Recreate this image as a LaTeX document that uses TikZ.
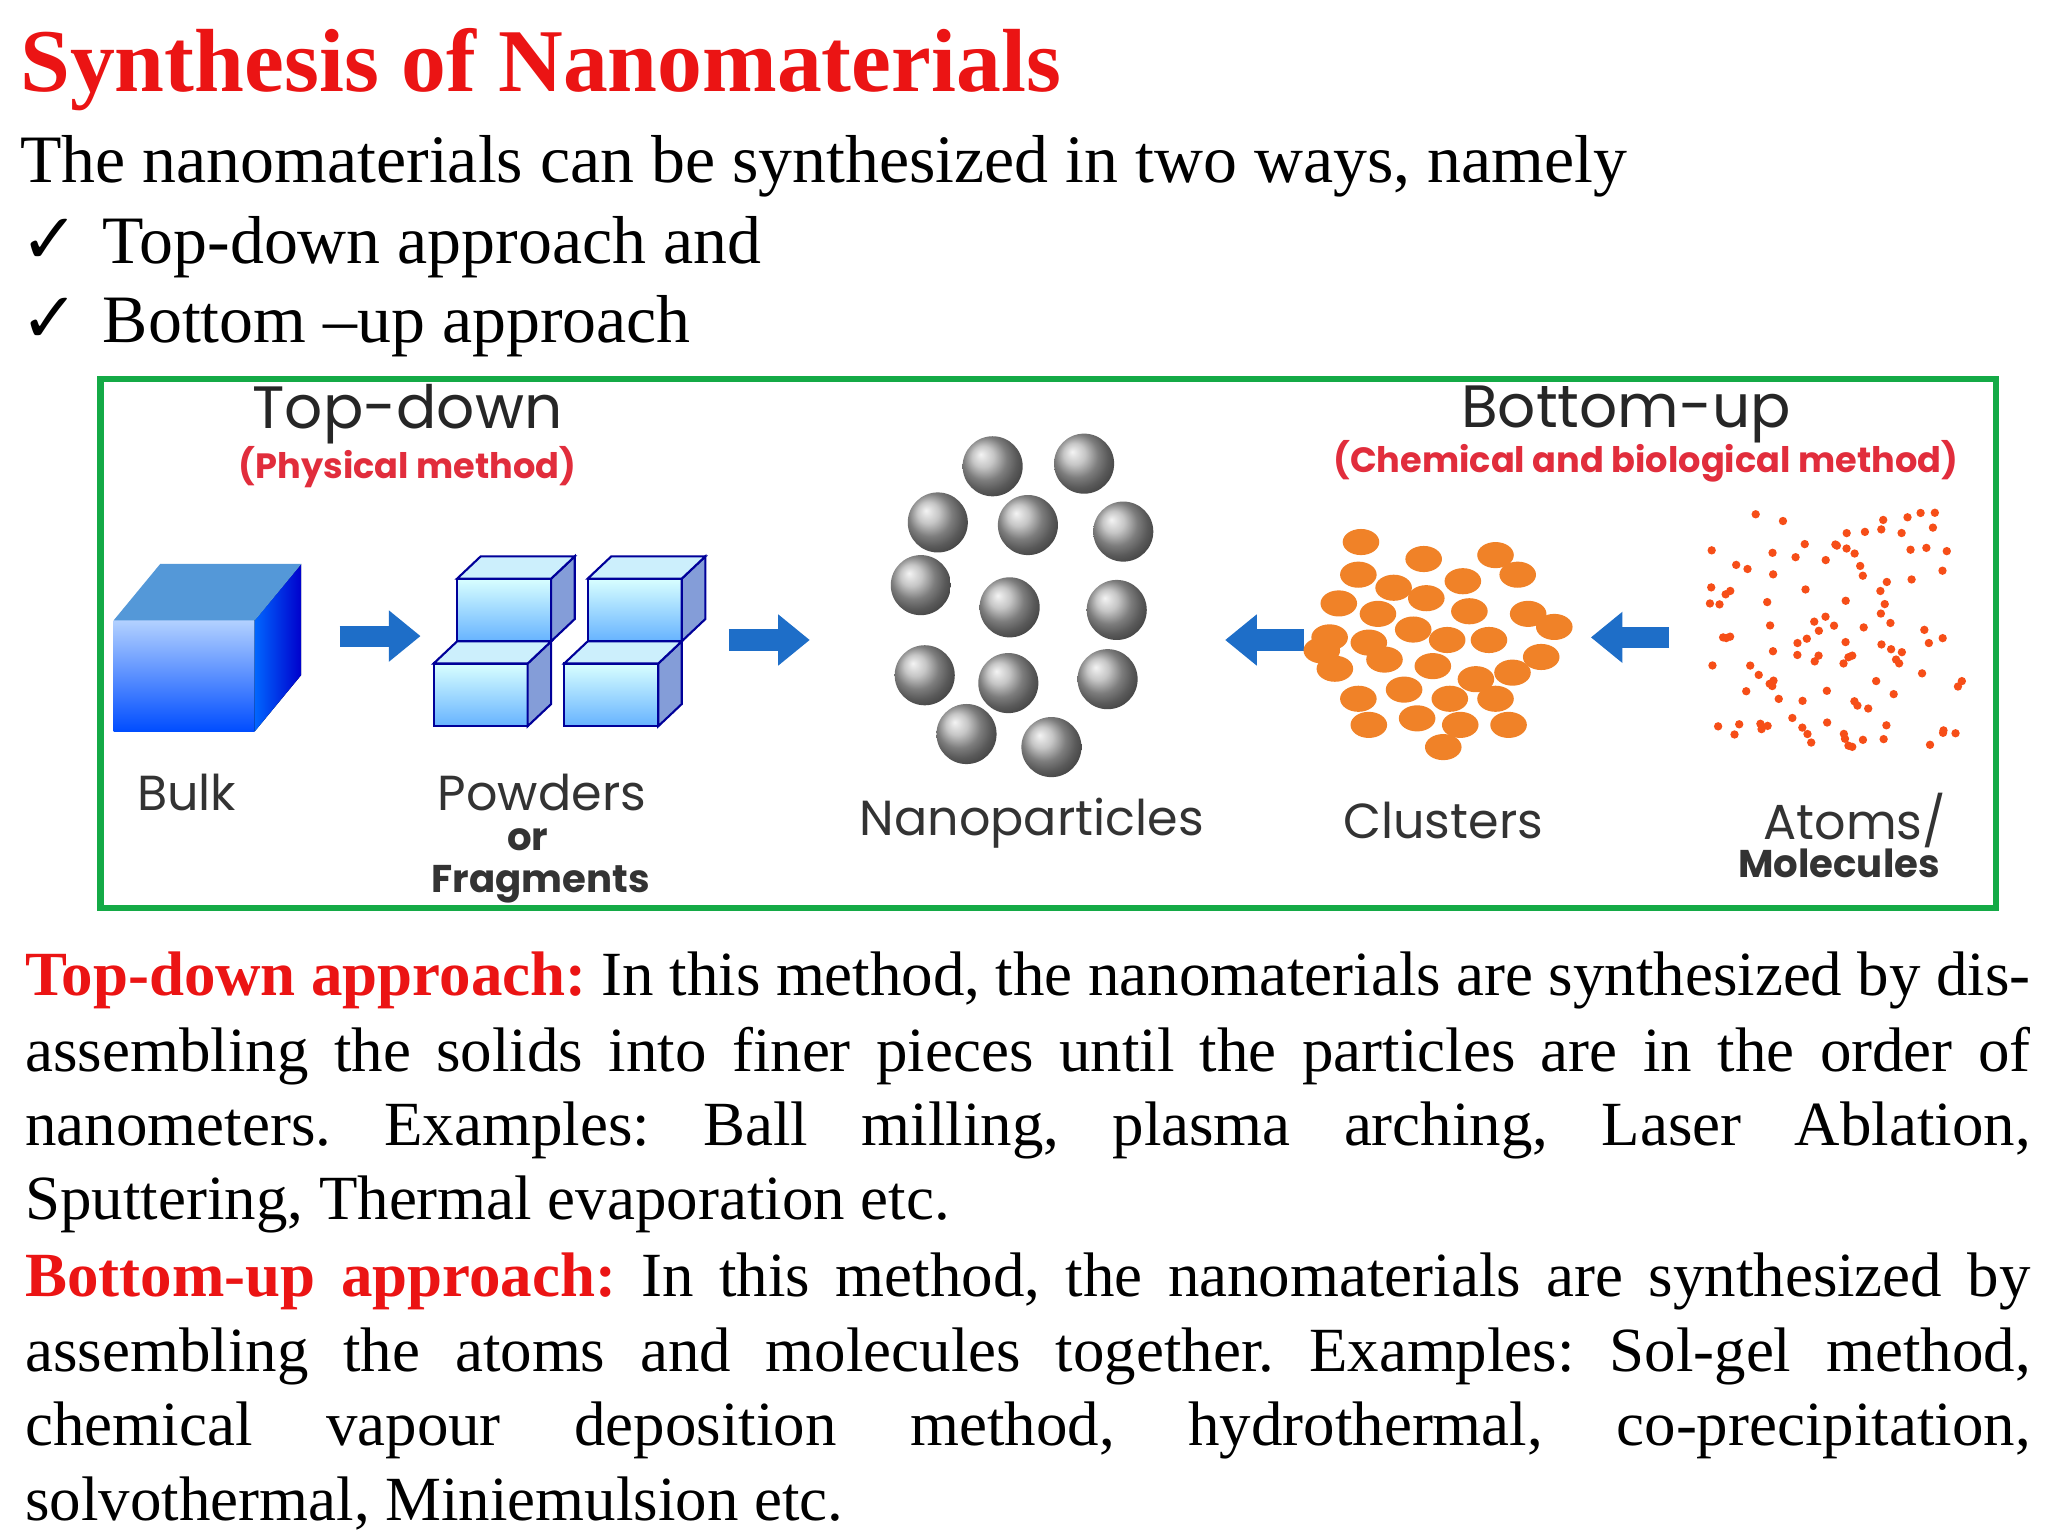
\documentclass[tikz,border=0pt]{standalone}
\usepackage{fontspec}
\setmainfont{Liberation Serif}
\newfontfamily\djfont{DejaVu Sans}
\newfontfamily\popfont{Poppins}
\usetikzlibrary{arrows.meta,shadings}
\definecolor{tred}{RGB}{235,20,20}
\definecolor{gbox}{RGB}{20,170,70}
\definecolor{barrow}{RGB}{30,110,200}
\definecolor{lred}{RGB}{225,45,60}
\definecolor{org}{RGB}{240,130,40}
\frenchspacing
\newcommand\fillline[1]{\hbox to 20.05cm{\spaceskip=0.2em plus 3em\relax #1}}
\tikzset{
 bline/.style={anchor=base west,inner sep=0,font=\fontsize{17.9}{21.4}\selectfont},
 lab/.style={font=\popfont\fontsize{14}{16}\selectfont,text=black!80},
 labb/.style={font=\popfont\bfseries\fontsize{11}{13}\selectfont,text=black!80},
 barr/.style={-{Triangle[length=9pt,width=14pt]},line width=6pt,barrow},
 ball/.style={ball color=gray!60,draw=none},
 clus/.style={fill=org,draw=none},
 dot/.style={fill=org!60!red,draw=none}
}
\begin{document}
\begin{tikzpicture}[x=0.01306cm,y=-0.01306cm]
\useasboundingbox[fill=white] (0,0) rectangle (1568,1176);
\node[anchor=west,inner sep=0,text=tred,font=\bfseries\fontsize{25.5}{28}\selectfont] (title) at (15,53) {Synthesis of Nanomaterials};
\node[anchor=west,inner sep=0,font=\fontsize{19.3}{21}\selectfont] (intro) at (15,127) {The nanomaterials can be synthesized in two ways, namely};
\node[anchor=west,inner sep=0,font=\fontsize{19.3}{21}\selectfont] (i1) at (15,189) {{\djfont\fontsize{20}{22}\selectfont ✓}\hspace{0.35em}Top-down approach and};
\node[anchor=west,inner sep=0,font=\fontsize{19.3}{21}\selectfont] (i2) at (15,250) {{\djfont\fontsize{20}{22}\selectfont ✓}\hspace{0.35em}Bottom –up approach};
\draw[gbox,line width=1.8pt] (77,290) rectangle (1528,695);
\node[font=\popfont\fontsize{17}{19}\selectfont,text=black!85] (td) at (312,317) {Top-down};
\node[font=\popfont\bfseries\fontsize{10}{12}\selectfont,text=lred] (tdp) at (312,358) {(Physical method)};
\node[font=\popfont\fontsize{17}{19}\selectfont,text=black!85] (bu) at (1245,317) {Bottom-up};
\node[font=\popfont\bfseries\fontsize{10}{12}\selectfont,text=lred] (bup) at (1260,353) {(Chemical and biological method)};
\def\cube#1#2#3#4{%
 \fill[top color=cyan!40!blue!30,bottom color=blue!70!cyan] (#1,#2) rectangle ++(#3,#4);
 \fill[left color=blue!60!cyan,right color=blue!80!black] (#1+#3,#2) -- ++(0.33*#3,-0.4*#3) -- ++(0,#4) -- ++(-0.33*#3,0.4*#3) -- cycle;
 \fill[cyan!60!blue!70] (#1,#2) -- ++(0.33*#3,-0.4*#3) -- ++(#3,0) -- ++(-0.33*#3,0.4*#3) -- cycle;}
\def\scube#1#2{%
 \fill[top color=cyan!15,bottom color=cyan!50!blue!60,draw=blue!60!black,line width=0.6pt] (#1,#2) rectangle ++(72,48);
 \fill[cyan!40!blue!50,draw=blue!60!black,line width=0.6pt] (#1+72,#2) -- ++(18,-17) -- ++(0,48) -- ++(-18,17) -- cycle;
 \fill[cyan!20,draw=blue!60!black,line width=0.6pt] (#1,#2) -- ++(18,-17) -- ++(72,0) -- ++(-18,17) -- cycle;}
\cube{87}{475}{108}{85}
\scube{350}{443}\scube{450}{443}\scube{332}{508}\scube{432}{508}
\node[lab] (bulk) at (143,607) {Bulk};
\node[lab] (pow) at (415,607) {Powders};
\node[labb] (or) at (404,643) {or};
\node[labb] (frag) at (414,677) {Fragments};
\coordinate (a1s) at (260,487); \coordinate (a1e) at (322,487);
\coordinate (a2s) at (558,490); \coordinate (a2e) at (620,490);
\coordinate (a3s) at (998,490); \coordinate (a3e) at (938,490);
\coordinate (a4s) at (1278,488); \coordinate (a4e) at (1218,488);
\draw[barr] (a1s) -- (a1e); \draw[barr] (a2s) -- (a2e);
\draw[barr] (a3s) -- (a3e); \draw[barr] (a4s) -- (a4e);
\foreach \x/\y in {760/357,830/355,718/400,787/402,860/407,705/448,773/465,855/467,708/517,772/523,848/520,740/562,805/572}
 \shade[ball] (\x,\y) circle (23);
\node[lab] (np) at (790,630) {Nanoparticles};
\foreach \x/\y in {1042/415,1090/428,1145/425,1040/440,1067/450,1120/445,1162/440,1025/462,1055/470,1092/458,1125/468,1170/470,1018/488,1048/492,1082/482,1108/490,1140/490,1180/503,1022/512,1060/505,1097/510,1130/520,1158/515,1040/535,1075/528,1110/535,1145/535,1048/555,1085/550,1118/555,1155/555,1105/572,1012/498,1190/480}
 \fill[clus] (\x,\y) ellipse (14 and 10);
\node[lab] (cl) at (1105,628) {Clusters};
\pgfmathsetseed{7}
\foreach \i in {1,...,110}{
 \pgfmathsetmacro\xx{1405+100*rand}
 \pgfmathsetmacro\yy{482+90*rand}
 \fill[dot] (\xx,\yy) circle (3.2);}
\node[lab] (at) at (1420,628) {Atoms/};
\node[labb] (mol) at (1408,661) {Molecules};
\node[bline] (l1) at (19,762) {\fillline{\textcolor{tred}{\textbf{Top-down approach:}} In this method, the nanomaterials are synthesized by dis-}};
\node[bline] (l2) at (19,820) {\fillline{assembling the solids into finer pieces until the particles are in the order of}};
\node[bline] (l3) at (19,877) {\fillline{nanometers. Examples: Ball milling, plasma arching, Laser Ablation,}};
\node[bline] (l4) at (19,934) {Sputtering, Thermal evaporation etc.};
\node[bline] (l5) at (19,993) {\fillline{\textcolor{tred}{\textbf{Bottom-up approach:}} In this method, the nanomaterials are synthesized by}};
\node[bline] (l6) at (19,1050) {\fillline{assembling the atoms and molecules together. Examples: Sol-gel method,}};
\node[bline] (l7) at (19,1107) {\fillline{chemical vapour deposition method, hydrothermal, co-precipitation,}};
\node[bline] (l8) at (19,1164) {solvothermal, Miniemulsion etc.};
\end{tikzpicture}
\end{document}
